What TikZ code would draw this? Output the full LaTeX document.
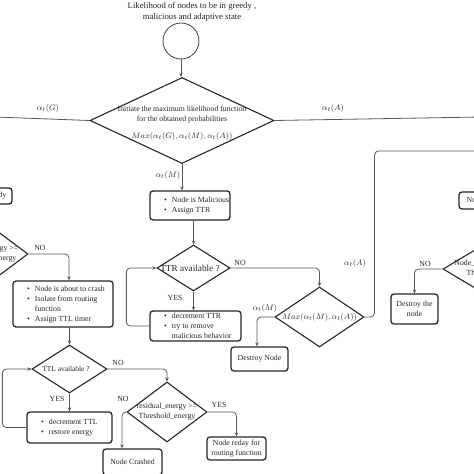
\documentclass[tikz,border=0pt]{standalone}
\usepackage{fontspec}
\setmainfont{Liberation Serif}
\usetikzlibrary{shapes.geometric,arrows.meta}
\begin{document}
\begin{tikzpicture}[x=1pt,y=-1pt,
  every node/.style={font=\fontsize{7.8}{10}\selectfont, inner sep=0pt, text=black!85},
  box/.style={draw=black!85, line width=1.3pt, rounded corners=3pt, rectangle},
  dia/.style={draw=black!85, line width=1.1pt, diamond},
  conn/.style={draw=black!65, line width=0.8pt, rounded corners=4pt},
  arr/.style={conn, -{Stealth[length=4pt,width=3.5pt]}},
  lab/.style={font=\fontsize{7.8}{10}\selectfont},
  mlab/.style={font=\fontsize{8.3}{10}\selectfont},
]
\useasboundingbox (0,0) rectangle (474,474);
\clip (0,0) rectangle (474,474);
\fill[white] (0,0) rectangle (474,474);

% top
\node[font=\fontsize{8.7}{10.5}\selectfont, align=center] (title) at (192,12) {Likelihood of nodes to be in greedy ,\\ malicious and adaptive state};
\node[circle, draw=black!75, line width=0.8pt, minimum size=36pt] (start) at (181,41) {};
\node[dia, minimum width=184pt, minimum height=86pt] (D0) at (182,120.5) {};
\node[lab] (D0t1) at (182,109) {Initiate the maximum likelihood function};
\node[lab] (D0t2) at (182,119.5) {for the obtained probabilities};
\node[mlab] (D0t3) at (182,136) {$Max(\alpha_t(G),\alpha_t(M),\alpha_t(A))$};
\draw[arr] (start.south) -- (start.south |- D0.north);
\draw[conn] (D0.west) -- (-5,117);
\draw[conn] (D0.east) -- (480,117);
\node[mlab] (lG) at (48,108) {$\alpha_t(G)$};
\node[mlab] (lA) at (333,108) {$\alpha_t(A)$};

% malicious branch
\node[box, minimum width=80pt, minimum height=29pt] (B1) at (190,205.5) {};
\node[lab, anchor=west] (B1t) at (164,205.5) {\begin{tabular}{@{}l@{\hspace{5pt}}l@{}}\textbullet & Node is Malicious\\ \textbullet & Assign TTR\end{tabular}};
\draw[arr] (D0.south) -- (D0.south |- B1.north);
\node[mlab] (lM) at (168,175) {$\alpha_t(M)$};

\node[dia, minimum width=73pt, minimum height=46pt] (TTR) at (193.5,268) {};
\node[font=\fontsize{9.2}{10}\selectfont] (TTRt) at (190,268) {TTR available ?};
\draw[arr] (TTR.north |- B1.south) -- (TTR.north);

\node[box, minimum width=91pt, minimum height=30pt] (B2) at (195.5,326) {};
\node[lab, anchor=west] (B2t) at (164,326) {\begin{tabular}{@{}l@{\hspace{5pt}}l@{}}\textbullet & decrement TTR\\ \textbullet & try to remove\\ & malicious behavior\end{tabular}};
\draw[arr] (TTR.south) -- (TTR.south |- B2.north);
\node[lab] (yes1) at (175,298) {YES};
\draw[arr] (B2.west) -- ++(-23,0) |- (TTR.west);

\node[dia, minimum width=89pt, minimum height=60pt] (M2) at (319.5,317) {};
\node[mlab] (M2t) at (319.5,317) {$Max(\alpha_t(M),\alpha_t(A))$};
\draw[arr] (TTR.east) -| (M2.north);
\node[lab] (no1) at (240,263) {NO};
\node[box, minimum width=57pt, minimum height=24pt] (DN) at (259.5,359) {Destroy Node};
\draw[arr] (M2.west) -| ([xshift=-2.5pt]DN.north);
\node[mlab] (lM2) at (265,308) {$\alpha_t(M)$};
\draw[conn] (M2.east) -- ++(10,0) -- ++(0,-166) -- ++(115,0);
\node[mlab] (lA2) at (355,263) {$\alpha_t(A)$};

% greedy branch (partly cut)
\node[box, minimum width=60pt, minimum height=16pt] (G) at (-18,196) {Node is Greedy};
\node[dia, minimum width=80pt, minimum height=60pt] (LD) at (-12,254) {};
\node[lab, align=center] (LDt) at (-12,254) {residual\_energy >=\\Threshold\_energy};
\node[box, minimum width=100pt, minimum height=46pt] (B3) at (63,304) {};
\node[lab, anchor=west] (B3t) at (27,304) {\begin{tabular}{@{}l@{\hspace{5pt}}l@{}}\textbullet & Node is about to crash\\ \textbullet & Isolate from routing\\ & function\\ \textbullet & Assign TTL timer\end{tabular}};
\draw[arr] (LD.east) -| ([xshift=6pt]B3.north);
\node[lab] (no2) at (40,248) {NO};

\node[dia, minimum width=75pt, minimum height=48pt] (TTL) at (69.5,369) {};
\node[font=\fontsize{7.4}{10}\selectfont] (TTLt) at (66,369) {TTL available ?};
\draw[arr] (TTL.north |- B3.south) -- (TTL.north);
\node[box, minimum width=85pt, minimum height=31pt] (B4) at (69.5,427.5) {};
\node[lab, anchor=west] (B4t) at (41,427.5) {\begin{tabular}{@{}l@{\hspace{5pt}}l@{}}\textbullet & decrement TTL\\ \textbullet & restore energy\end{tabular}};
\draw[arr] (TTL.south) -- (B4.north);
\node[lab] (yes2) at (57,399) {YES};
\draw[arr] (B4.west) -- ++(-24,0) |- (TTL.west);

\node[dia, minimum width=80pt, minimum height=60pt] (RD) at (167,412) {};
\node[lab, align=center] (RDt) at (167,412) {residual\_energy >=\\Threshold\_energy};
\draw[arr] (TTL.east) -| (RD.north);
\node[lab] (no3) at (118,363) {NO};
\node[box, minimum width=59pt, minimum height=26pt] (NC) at (132.5,462) {Node Crashed};
\draw[arr] (RD.west) -| ([xshift=-10.5pt]NC.north);
\node[lab] (no4) at (123,399) {NO};
\node[box, minimum width=59pt, minimum height=23pt, align=center] (NR) at (236.5,448.5) {Node reday for\\routing function};
\draw[arr] (RD.east) -| (NR.north);
\node[lab] (yes3) at (219,405) {YES};

% adaptive branch (partly cut)
\node[box, minimum width=70pt, minimum height=17pt] (AD) at (494,200.5) {Node is Adaptive};
\node[dia, minimum width=100pt, minimum height=60pt] (RR) at (493,269) {};
\node[lab, align=center] (RRt) at (495,269) {Node\_residual\_energy >=\\Threshold\_energy};
\node[box, minimum width=47pt, minimum height=30pt, align=center] (DT) at (414.5,309) {Destroy the\\node};
\draw[arr] (RR.west) -| (DT.north);
\node[lab] (no5) at (425,264) {NO};
\end{tikzpicture}
\end{document}
